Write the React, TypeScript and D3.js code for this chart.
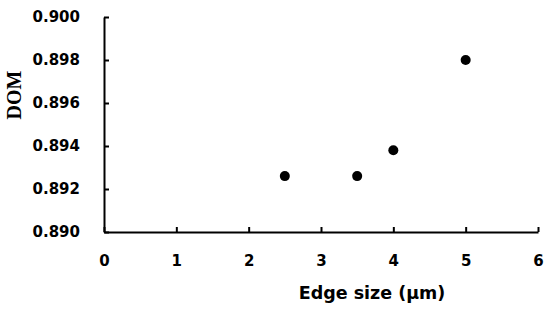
import React, { useRef, useEffect } from 'react';
import * as d3 from 'd3';

const edgeSizes = [2.5, 3.5, 4, 5];
const domValues = [0.8926, 0.8926, 0.8938, 0.898];
const xTicks = [0, 1, 2, 3, 4, 5, 6];
const yTicks = [0.89, 0.892, 0.894, 0.896, 0.898, 0.9];

const W = 550;
const H = 311;

const App = () => {
  const ref = useRef<SVGSVGElement>(null);

  useEffect(() => {
    const svg = d3.select(ref.current);
    const margin = { top: 17, right: 12, bottom: 79, left: 104 };

    svg.selectAll('*').remove();

    const x = d3.scaleLinear()
      .domain([0, 6])
      .range([margin.left, W - margin.right]);

    const y = d3.scaleLinear()
      .domain([0.89, 0.9])
      .range([H - margin.bottom, margin.top]);

    const tickFont = 'DejaVu Sans, sans-serif';

    // x axis, ticks point inward
    const xAxis = svg.append('g')
      .attr('transform', `translate(0,${H - margin.bottom})`)
      .call(d3.axisBottom(x).tickValues(xTicks).tickSizeInner(-5).tickSizeOuter(0).tickPadding(23).tickFormat(d3.format('d')));
    xAxis.select('.domain').attr('stroke', '#000').attr('stroke-width', 2);
    xAxis.selectAll('line').attr('stroke', '#000').attr('stroke-width', 2);
    xAxis.selectAll('text')
      .attr('fill', '#000')
      .style('font-family', tickFont)
      .style('font-weight', 'bold')
      .style('font-size', '15px');

    // y axis
    const yAxis = svg.append('g')
      .attr('transform', `translate(${margin.left},0)`)
      .call(d3.axisLeft(y).tickValues(yTicks).tickSizeInner(-5).tickSizeOuter(0).tickPadding(24).tickFormat(d3.format('.3f')));
    yAxis.select('.domain').attr('stroke', '#000').attr('stroke-width', 2);
    yAxis.selectAll('line').attr('stroke', '#000').attr('stroke-width', 2);
    yAxis.selectAll('text')
      .attr('fill', '#000')
      .style('font-family', tickFont)
      .style('font-weight', 'bold')
      .style('font-size', '15px');

    // points
    svg.append('g')
      .selectAll('circle')
      .data(edgeSizes.map((e, i) => ({ e, v: domValues[i] })))
      .enter()
      .append('circle')
      .attr('cx', d => x(d.e))
      .attr('cy', d => y(d.v))
      .attr('r', 5)
      .attr('fill', '#000');

    // axis titles
    svg.append('text')
      .attr('x', 372)
      .attr('y', 299)
      .attr('text-anchor', 'middle')
      .attr('fill', '#000')
      .style('font-family', tickFont)
      .style('font-weight', 'bold')
      .style('font-size', '17.5px')
      .text('Edge size (μm)');

    svg.append('text')
      .attr('transform', `translate(21,95) rotate(-90)`)
      .attr('text-anchor', 'middle')
      .attr('fill', '#000')
      .style('font-family', 'Liberation Serif, serif')
      .style('font-weight', 'bold')
      .style('font-size', '20px')
      .text('DOM');
  }, []);

  return (
    <svg ref={ref} width={W} height={H} style={{ position: 'absolute', left: 0, top: 0, background: '#fff' }}></svg>
  );
};

export default App;
